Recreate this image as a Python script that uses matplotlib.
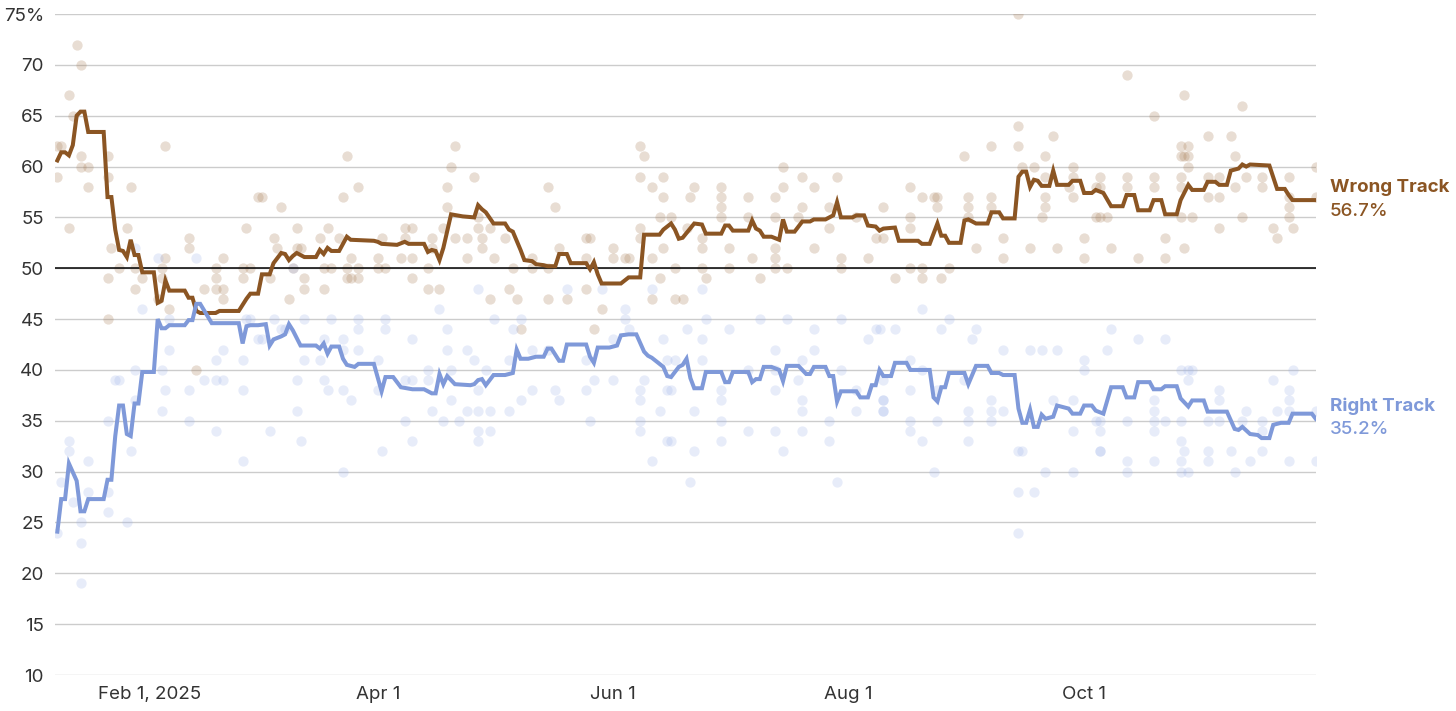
import numpy as np
import pandas as pd
import matplotlib
matplotlib.use("Agg")
import matplotlib.pyplot as plt

plt.rcParams['font.family'] = ['Inter', 'DejaVu Sans']

# day of year 2025 -> value
wrong_day = [8, 9, 10, 11, 12, 13, 14, 15, 16, 20, 21, 22, 23, 24, 25, 26, 27, 28, 29, 30, 33, 34, 35, 36, 37,
             41, 42, 43, 44, 45, 49, 50, 55, 57, 58, 60, 61, 63, 64, 66, 67, 68, 69, 70, 72, 75, 76, 77, 78, 79,
             81, 83, 84, 90, 91, 92, 96, 98, 99, 103, 104, 105, 106, 107, 108, 110, 113, 116, 117, 118, 119, 121,
             124, 125, 126, 127, 128, 129, 131, 132, 134, 135, 137, 138, 140, 141, 145, 146, 147, 148, 149, 154,
             155, 156, 159, 160, 164, 165, 167, 168, 169, 170, 173, 175, 176, 180, 181, 182, 183, 187, 188, 189,
             190, 191, 193, 195, 196, 197, 199, 201, 203, 204, 207, 209, 210, 211, 214, 215, 217, 218, 220, 221,
             222, 225, 226, 231, 232, 234, 236, 237, 238, 239, 242, 243, 244, 246, 249, 250, 252, 253, 256, 257,
             258, 259, 260, 261, 262, 263, 265, 266, 267, 270, 271, 273, 274, 276, 277, 279, 281, 284, 285, 287,
             288, 291, 292, 294, 295, 298, 299, 301, 302, 305, 306, 308, 309, 311, 312, 314, 315, 316, 317, 322,
             324, 326, 327, 328, 334]
wrong_avg = [60.6, 61.4, 61.4, 61.1, 62.1, 65.0, 65.4, 65.4, 63.4, 63.4, 57.0, 57.0, 53.8, 51.8, 51.7, 51.1, 52.8,
             51.3, 51.3, 49.6, 49.6, 46.6, 46.8, 48.8, 47.8, 47.8, 47.1, 47.1, 45.8, 45.6, 45.6, 45.8, 45.8, 47.0,
             47.5, 47.5, 49.4, 49.4, 50.5, 51.5, 51.4, 50.8, 51.2, 51.5, 51.1, 51.1, 51.8, 51.4, 52.0, 51.7, 51.7,
             53.1, 52.8, 52.7, 52.6, 52.4, 52.3, 52.6, 52.4, 52.4, 51.6, 51.8, 51.7, 50.8, 52.0, 55.3, 55.1, 55.0,
             56.2, 55.8, 55.5, 54.4, 54.4, 53.8, 53.6, 52.7, 51.8, 50.8, 50.7, 50.4, 50.3, 50.2, 50.2, 51.4, 51.4,
             50.5, 50.5, 49.9, 50.6, 49.4, 48.5, 48.5, 48.8, 49.1, 49.1, 53.3, 53.3, 53.8, 54.4, 53.8, 52.9, 53.0,
             54.4, 54.3, 53.4, 53.4, 54.2, 54.2, 53.7, 53.7, 54.7, 53.9, 53.7, 53.1, 53.1, 52.8, 54.8, 53.6, 53.6,
             54.6, 54.6, 54.8, 54.8, 55.2, 56.5, 55.0, 55.0, 55.2, 55.2, 54.2, 54.1, 53.7, 53.9, 54.0, 52.7, 52.7,
             52.4, 52.4, 54.4, 53.2, 53.2, 52.5, 52.5, 54.7, 54.8, 54.4, 54.4, 55.5, 55.5, 54.9, 54.9, 59.0, 59.5,
             59.5, 58.0, 58.7, 58.6, 58.1, 58.1, 59.6, 58.2, 58.2, 58.6, 58.6, 57.4, 57.4, 57.7, 57.4, 56.1, 56.1,
             57.2, 57.2, 55.7, 55.7, 56.7, 56.7, 55.3, 55.3, 56.7, 58.2, 57.7, 57.7, 58.5, 58.5, 58.2, 58.2, 59.6,
             59.8, 60.2, 60.0, 60.2, 60.1, 57.8, 57.8, 57.2, 56.7, 56.7]

right_day = [8, 9, 10, 11, 13, 14, 15, 16, 20, 21, 22, 23, 24, 25, 26, 27, 28, 29, 30, 33, 34, 35, 36, 37, 41, 42,
             43, 44, 45, 48, 55, 56, 57, 58, 60, 62, 63, 64, 66, 67, 68, 69, 71, 75, 76, 77, 78, 79, 81, 82, 83,
             85, 86, 90, 92, 93, 95, 97, 100, 103, 105, 106, 107, 108, 109, 111, 115, 116, 117, 118, 119, 121,
             124, 126, 127, 128, 130, 132, 134, 135, 136, 138, 139, 140, 145, 146, 147, 148, 151, 153, 154, 156,
             158, 160, 161, 162, 163, 165, 166, 167, 169, 170, 171, 172, 173, 175, 176, 180, 181, 182, 183, 187,
             188, 189, 190, 191, 193, 195, 196, 197, 200, 202, 203, 204, 207, 208, 209, 210, 211, 215, 216, 218,
             219, 220, 221, 222, 224, 225, 228, 229, 234, 235, 236, 237, 238, 239, 243, 244, 246, 249, 250, 252,
             253, 256, 257, 258, 259, 260, 261, 262, 263, 264, 266, 267, 270, 271, 273, 274, 276, 277, 279, 281,
             284, 285, 287, 288, 291, 292, 294, 295, 298, 299, 301, 302, 305, 306, 311, 313, 314, 315, 317, 319,
             320, 322, 323, 325, 327, 328, 333, 334]
right_avg = [24.1, 27.3, 27.3, 30.8, 29.1, 26.1, 26.1, 27.3, 27.3, 29.2, 29.2, 33.5, 36.5, 36.5, 33.7, 33.5, 36.7,
             36.7, 39.8, 39.8, 45.0, 44.1, 44.1, 44.4, 44.4, 44.9, 44.9, 46.5, 46.5, 44.6, 44.6, 42.6, 44.3, 44.4,
             44.4, 44.5, 42.4, 43.0, 43.3, 43.5, 44.5, 43.9, 42.4, 42.4, 42.1, 42.6, 41.6, 42.3, 42.3, 41.1, 40.5,
             40.3, 40.6, 40.6, 37.9, 39.3, 39.3, 38.3, 38.1, 38.1, 37.7, 37.7, 39.6, 38.6, 39.4, 38.6, 38.5, 38.6,
             39.0, 39.1, 38.5, 39.5, 39.5, 39.7, 42.0, 41.1, 41.1, 41.3, 41.3, 42.1, 42.1, 40.9, 40.9, 42.5, 42.5,
             41.3, 40.7, 42.2, 42.2, 42.4, 43.4, 43.5, 43.5, 41.8, 41.4, 41.2, 40.9, 40.3, 39.4, 39.3, 40.3, 40.5,
             41.1, 39.2, 38.2, 38.2, 39.8, 39.8, 38.8, 38.8, 39.8, 39.8, 38.8, 39.1, 39.1, 40.3, 40.3, 40.0, 38.9,
             40.4, 40.4, 39.6, 39.6, 40.3, 40.3, 39.4, 39.4, 36.9, 37.9, 37.9, 37.3, 37.3, 38.5, 38.5, 40.0, 39.4,
             39.4, 40.7, 40.7, 40.0, 40.0, 37.3, 36.9, 38.3, 38.3, 39.7, 39.7, 38.6, 40.4, 40.4, 39.7, 39.7, 39.5,
             39.5, 36.2, 34.8, 34.8, 36.1, 34.4, 34.4, 35.6, 35.2, 35.4, 36.5, 36.2, 35.7, 35.7, 36.5, 36.5, 36.0,
             35.7, 38.3, 38.3, 37.3, 37.3, 38.8, 38.8, 38.1, 38.1, 38.4, 38.4, 37.2, 36.4, 37.0, 37.0, 35.9, 35.9,
             34.2, 34.1, 34.4, 33.7, 33.6, 33.3, 33.3, 34.6, 34.8, 34.8, 35.7, 35.7, 35.2]

# individual polls
wrong_poll_day = [13, 14, 11, 12, 8, 9, 8, 11, 14, 14, 16, 16, 21, 21, 36, 27, 26, 22, 24, 21, 21, 28, 28, 30, 34,
                  36, 35, 35, 37, 42, 42, 46, 44, 49, 49, 49, 51, 51, 51, 56, 56, 57, 58, 60,
                  61, 66, 64, 65, 63, 68, 70, 70, 71, 72, 72, 69, 76, 77, 77, 78, 79, 82, 83, 81, 84, 83, 83, 84,
                  86, 86, 86, 91, 91, 92, 93, 97, 98, 98, 100, 100, 100, 104, 104, 105, 105, 107, 108, 109, 109,
                  110, 111, 111, 114, 114,
                  116, 117, 117, 118, 118, 120, 120, 121, 124, 125, 126, 127, 128, 131, 131, 135, 135, 135, 137,
                  138, 140, 145, 146, 145, 145, 149, 147, 152, 152, 155, 156, 159, 160, 159, 159, 159, 162, 162,
                  162, 165, 165, 164, 167, 165, 164, 168, 168,
                  173, 172, 171, 175, 175, 175, 176, 170, 180, 180, 180, 180, 182, 182, 187, 187, 188, 190, 194,
                  194, 196, 196, 194, 194, 194, 197, 201, 201, 200, 204, 204, 208, 208, 210, 211, 211, 215, 218,
                  220, 222, 222,
                  225, 229, 229, 229, 229, 232, 232, 232, 235, 236, 236, 237, 239, 243, 244, 244, 244, 246, 250,
                  250, 250, 253, 253, 257, 257, 257, 258, 260, 261, 264, 264, 264, 264, 266, 263, 267, 271, 271,
                  271, 270, 274, 274, 277, 277,
                  285, 300, 292, 315, 306, 312, 299, 299, 301, 300, 301, 301, 313, 278, 278, 285, 285, 292, 292,
                  299, 299, 306, 309, 306, 309, 313, 316, 320, 320, 327, 327, 327, 327, 334, 334, 278, 280, 281,
                  288, 295, 295, 299, 302, 300, 309, 315, 323, 324, 328]
wrong_poll_val = [72, 70, 67, 65, 62, 62, 59, 54, 61, 60, 60, 58, 61, 59, 62, 58, 54, 52, 50, 49, 45, 50, 48, 49, 47,
                  51, 50, 49, 46, 53, 52, 48, 40, 50, 49, 48, 51, 48, 47, 50, 49, 54, 50, 57,
                  57, 56, 53, 52, 49, 47, 54, 52, 52, 49, 48, 50, 53, 50, 48, 54, 50, 57, 61, 53, 51, 50, 49, 49,
                  58, 50, 49, 51, 50, 53, 50, 51, 54, 53, 54, 51, 49, 50, 48, 53, 52, 48, 54, 56, 58,
                  60, 62, 53, 51, 53,
                  59, 55, 54, 53, 52, 54, 47, 51, 53, 48, 50, 47, 44, 51, 50, 58, 50, 47, 56,
                  52, 47, 53, 53, 51, 48, 46, 44, 52, 51, 51, 51, 62, 61, 59, 54, 53, 58, 51,
                  47, 59, 57, 55, 55, 52, 49, 50, 47,
                  58, 57, 54, 53, 52, 50, 49, 47, 58, 57, 56, 55, 52, 50, 57, 55, 51, 49, 57,
                  55, 60, 58, 52, 51, 50, 50, 59, 56, 55, 58, 52, 56, 54, 59, 51, 50, 55, 51,
                  53, 53, 56,
                  49, 58, 55, 54, 50, 57, 50, 49, 57, 57, 56, 49, 50, 61, 57, 56, 55, 52, 62,
                  57, 56, 53, 51, 75, 64, 62, 60, 52, 60, 61, 59, 57, 56, 63, 55, 52, 60, 59,
                  57, 58, 53, 51, 58, 55,
                  69, 67, 65, 66, 63, 63, 62, 61, 62, 61, 61, 60, 61, 59, 58, 59, 58, 59, 58,
                  59, 58, 59, 59, 57, 57, 58, 59, 59, 58, 59, 57, 56, 55, 60, 57, 55, 55, 52,
                  51, 53, 51, 55, 55, 52, 54, 55, 54, 53, 54]

right_poll_day = [8, 9, 11, 11, 12, 14, 14, 14, 16, 16, 21, 21, 21, 23, 24, 26, 27, 28, 28, 28, 30, 34, 35, 35, 36,
                  37, 37, 42, 42, 44, 46, 49, 49, 49, 51, 51, 56, 56, 56, 57, 58, 60,
                  69, 64, 66, 67, 61, 63, 70, 70, 71, 72, 72, 76, 77, 77, 78, 79, 82, 82, 82, 84, 82, 86, 86, 86,
                  91, 91, 92, 93, 93, 98, 98, 100, 100, 100, 104, 104, 105, 107, 108, 109, 109, 110, 110, 112, 114,
                  114,
                  117, 116, 119, 117, 117, 120, 117, 117, 120, 121, 125, 125, 126, 128, 128, 131, 131, 135, 137, 138,
                  140, 145, 145, 146, 147, 149, 152, 152, 155, 155, 156, 159, 159, 159, 159, 160, 162, 162, 164,
                  165, 166, 166, 166, 168,
                  175, 176, 171, 175, 175, 182, 190, 197, 194, 201, 204, 204, 211, 211, 218, 220, 167, 173, 173,
                  172, 180, 180, 180, 180, 187, 187, 194, 194, 194, 196, 200, 201, 201, 201, 208, 208, 210, 215,
                  215, 222, 222, 167,
                  221, 225, 232, 237, 239, 246, 245, 229, 232, 222, 222, 222, 229, 229, 229, 232, 235, 236, 236,
                  243, 244, 244, 244, 250, 250, 250, 253, 253, 257, 258, 257, 261, 257, 260, 263, 267, 264, 266,
                  271, 271, 271, 274, 274, 278, 278,
                  281, 288, 295, 280, 299, 301, 302, 301, 309, 309, 323, 328, 327, 327, 324, 277, 278, 278, 285,
                  285, 285, 292, 292, 292, 292, 292, 295, 299, 299, 300, 299, 299, 301, 306, 306, 306, 309, 312,
                  313, 315, 316, 317, 320, 320, 320, 327, 327, 334, 334]
right_poll_val = [24, 29, 33, 32, 27, 25, 23, 19, 31, 28, 35, 28, 26, 39, 39, 25, 32, 40, 37, 52, 46, 51, 40, 36, 38,
                  45, 42, 38, 35, 51, 39, 41, 39, 34, 42, 39, 41, 38, 31, 45, 45, 43,
                  50, 45, 44, 44, 43, 34, 39, 36, 33, 45, 41, 41, 43, 39, 38, 45, 43, 42, 38, 37, 30, 45, 44, 42,
                  41, 38, 32, 45, 44, 39, 35, 43, 39, 33, 40, 39, 36, 46, 35, 44, 42, 40, 37, 35, 42,
                  36,
                  48, 41, 40, 38, 36, 36, 34, 33, 34, 45, 41, 36, 44, 45, 37, 42, 38, 42, 38, 37,
                  48, 41, 38, 35, 39, 48, 43, 39, 46, 45, 44, 38, 37, 35, 34, 39, 48, 31, 36,
                  43, 41, 38, 33, 41,
                  48, 45, 44, 43, 41, 44, 45, 45, 42, 41, 44, 42, 45, 40, 43, 44, 38, 36, 32,
                  29, 38, 37, 35, 33, 40, 34, 40, 38, 34, 32, 39, 37, 36, 34, 35, 33, 29, 38,
                  36, 37, 36, 33,
                  44, 44, 46, 44, 45, 44, 43, 41, 40, 39, 37, 36, 38, 35, 34, 33, 30, 38, 35,
                  39, 36, 35, 33, 37, 36, 35, 42, 36, 32, 32, 28, 28, 24, 42, 42, 42, 30, 37,
                  37, 34, 30, 41, 40, 35, 32,
                  44, 43, 43, 42, 40, 40, 40, 39, 38, 37, 39, 40, 38, 37, 36, 35, 34, 32, 35,
                  31, 30, 37, 36, 35, 34, 31, 35, 35, 33, 32, 31, 30, 30, 35, 32, 31, 35, 32,
                  30, 35, 36, 31, 35, 34, 32, 36, 31, 36, 31]

tick_dates = ['2025-02-01', '2025-04-01', '2025-06-01', '2025-08-01', '2025-10-01']
tick_labels = ['Feb 1, 2025', 'Apr 1', 'Jun 1', 'Aug 1', 'Oct 1']
y_ticks = list(range(10, 80, 5))


def to_date(days):
    return pd.Timestamp('2025-01-01') + pd.to_timedelta(np.array(days, dtype=float) - 1, unit='D')


brown = '#8b5523'
blue = '#7f99d9'

fig = plt.figure(figsize=(14.56, 7.11), dpi=100)
ax = fig.add_axes([0.0378, 0.0506, 0.8661, 0.9297])

ax.scatter(to_date(wrong_poll_day), wrong_poll_val, s=55, color='#a77b52', alpha=0.25, linewidths=0, zorder=2)
ax.scatter(to_date(right_poll_day), right_poll_val, s=55, color='#9db2ea', alpha=0.24, linewidths=0, zorder=2)

ax.plot(to_date(wrong_day), wrong_avg, color=brown, lw=2.9, zorder=4, solid_joinstyle='miter')
ax.plot(to_date(right_day), right_avg, color=blue, lw=2.9, zorder=4, solid_joinstyle='miter')

ax.axhline(50, color='black', lw=1.1, zorder=3)

ax.set_ylim(10, 75)
ax.set_xlim(to_date([7.4])[0], to_date([334.1])[0])
ax.set_yticks(y_ticks)
ax.set_yticklabels([str(v) + ('%' if v == 75 else '') for v in y_ticks])
ax.set_xticks(pd.to_datetime(tick_dates))
ax.set_xticklabels(tick_labels)
ax.grid(axis='y', color='#cccccc', lw=1, zorder=0)
ax.grid(axis='x', visible=False)
for s in ax.spines.values():
    s.set_visible(False)
ax.tick_params(axis='both', length=0, labelsize=13.5, colors='#333333')
ax.tick_params(axis='y', pad=8)
ax.tick_params(axis='x', pad=8)

# end labels
last_w = (to_date([wrong_day[-1]])[0], wrong_avg[-1])
last_r = (to_date([right_day[-1]])[0], right_avg[-1])
ax.annotate('Wrong Track', last_w, xytext=(10, 9), textcoords='offset points', color=brown,
            fontsize=13.5, fontweight='bold', va='center', ha='left', annotation_clip=False)
ax.annotate('%.1f%%' % wrong_avg[-1], last_w, xytext=(10, -8), textcoords='offset points', color=brown,
            fontsize=13.5, fontweight='medium', va='center', ha='left', annotation_clip=False)
ax.annotate('Right Track', last_r, xytext=(10, 9), textcoords='offset points', color=blue,
            fontsize=13.5, fontweight='bold', va='center', ha='left', annotation_clip=False)
ax.annotate('%.1f%%' % right_avg[-1], last_r, xytext=(10, -8), textcoords='offset points', color=blue,
            fontsize=13.5, fontweight='medium', va='center', ha='left', annotation_clip=False)

fig.savefig('out.png', dpi=100)
